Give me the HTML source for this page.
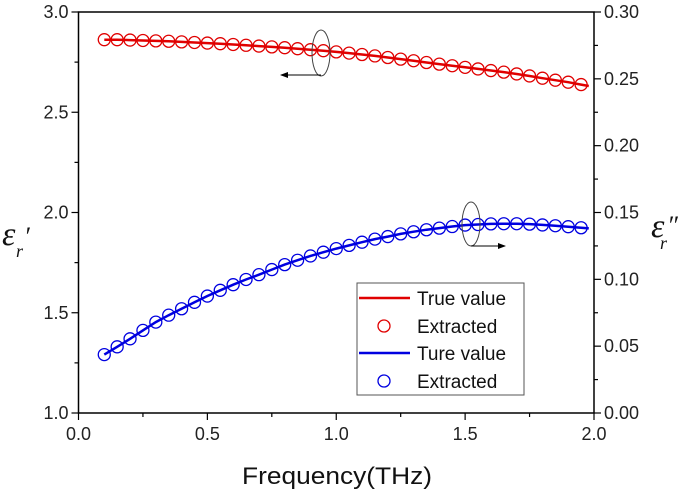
<!DOCTYPE html>
<html><head><meta charset="utf-8"><style>
body{margin:0;background:#fff}
svg{display:block;font-family:"Liberation Sans",sans-serif}
</style></head><body>
<svg id="chart" width="685" height="493"></svg>
<script>
const freqs=[0.10,0.15,0.20,0.25,0.30,0.35,0.40,0.45,0.50,0.55,0.60,0.65,0.70,0.75,0.80,0.85,0.90,0.95,1.00,1.05,1.10,1.15,1.20,1.25,1.30,1.35,1.40,1.45,1.50,1.55,1.60,1.65,1.70,1.75,1.80,1.85,1.90,1.95];
const realPart=[2.862,2.862,2.860,2.858,2.856,2.854,2.851,2.848,2.845,2.842,2.838,2.834,2.830,2.826,2.822,2.817,2.812,2.807,2.801,2.795,2.788,2.781,2.773,2.765,2.757,2.748,2.740,2.732,2.724,2.716,2.708,2.700,2.691,2.681,2.670,2.660,2.650,2.638];
const imagPart=[0.0437,0.0495,0.0555,0.0618,0.0680,0.0732,0.0780,0.0828,0.0875,0.0918,0.0960,0.0999,0.1035,0.1073,0.1110,0.1143,0.1175,0.1203,0.1230,0.1254,0.1278,0.1301,0.1320,0.1340,0.1356,0.1371,0.1383,0.1395,0.1406,0.1410,0.1415,0.1416,0.1416,0.1413,0.1407,0.1401,0.1394,0.1386];
const xTicks=["0.0","0.5","1.0","1.5","2.0"];
const yLeftTicks=["1.0","1.5","2.0","2.5","3.0"];
const yRightTicks=["0.00","0.05","0.10","0.15","0.20","0.25","0.30"];

const X0=78.5,X1=594,Y0=413,Y1=12;
const sx=v=>X0+(v/2)*(X1-X0);
const syL=v=>Y0-(v-1)/2*(Y0-Y1);
const syR=v=>Y0-(v/0.3)*(Y0-Y1);
const svg=document.getElementById('chart');
const NS='http://www.w3.org/2000/svg';
function mk(tag,attrs,parent){const e=document.createElementNS(NS,tag);for(const k in attrs)e.setAttribute(k,attrs[k]);(parent||svg).appendChild(e);return e;}

let f=mk('rect',{x:X0,y:Y1,width:X1-X0,height:Y0-Y1,fill:'none',stroke:'#000','stroke-width':1.5});



for(let i=0;i<=8;i++){const v=i*0.25,x=sx(v),len=i%2?4:7;
 mk('line',{x1:x,y1:Y0,x2:x,y2:Y0+len,stroke:'#000','stroke-width':1.2});}
xTicks.forEach(t=>{const e=mk('text',{x:sx(+t),y:Y0+27,'text-anchor':'middle','font-size':18,fill:'#222'});e.textContent=t;
 
 });
for(let i=0;i<=8;i++){const v=1+i*0.25,y=syL(v),len=i%2?4:7;
 mk('line',{x1:X0,y1:y,x2:X0-len,y2:y,stroke:'#000','stroke-width':1.2});}
yLeftTicks.forEach(t=>{const e=mk('text',{x:X0-10,y:syL(+t)+6,'text-anchor':'end','font-size':18,fill:'#222'});e.textContent=t;
 
 });
for(let i=0;i<=12;i++){const v=i*0.025,y=syR(v),len=i%2?4:7;
 mk('line',{x1:X1,y1:y,x2:X1+len,y2:y,stroke:'#000','stroke-width':1.2});}
yRightTicks.forEach(t=>{const e=mk('text',{x:X1+10,y:syR(+t)+6,'text-anchor':'start','font-size':18,fill:'#222'});e.textContent=t;
 
 });

function line(vals,sy,color,name){
 let d=vals.map((v,i)=>(i?'L':'M')+sx(freqs[i]).toFixed(1)+','+sy(v).toFixed(1)).join('');
 const n=vals.length;const slope=vals[n-1]-vals[n-2];
 d+='L'+sx(1.98).toFixed(1)+','+sy(vals[n-1]+slope*0.6).toFixed(1);
 const p=mk('path',{d:d,fill:'none',stroke:color,'stroke-width':2.5});
 
 
}
line(realPart,syL,'#e00000','real-true-line');
line(imagPart,syR,'#0000e0','imag-true-line');
realPart.forEach((v,i)=>{const c=mk('circle',{cx:sx(freqs[i]),cy:syL(v),r:6,fill:'none',stroke:'#e00000','stroke-width':1.3});
 
 });
imagPart.forEach((v,i)=>{const c=mk('circle',{cx:sx(freqs[i]),cy:syR(v),r:6,fill:'none',stroke:'#0000e0','stroke-width':1.3});
 
 });
</script>
<div style="position:absolute;left:0;top:0;width:685px;height:493px;pointer-events:none">
<svg width="685" height="493" style="position:absolute;left:0;top:0">
 <defs><marker id="ah" markerWidth="8" markerHeight="6" refX="7" refY="3" orient="auto"><path d="M0,0L8,3L0,6z" fill="#000"/></marker></defs>
 <g>
  <ellipse cx="321" cy="53" rx="9" ry="23" fill="none" stroke="#444" stroke-width="1"/>
  <line x1="321" y1="75" x2="281" y2="75" stroke="#000" stroke-width="1" marker-end="url(#ah)"/>
 </g>
 <g>
  <ellipse cx="471" cy="224" rx="9" ry="22" fill="none" stroke="#444" stroke-width="1"/>
  <line x1="471" y1="246" x2="505" y2="246" stroke="#000" stroke-width="1" marker-end="url(#ah)"/>
 </g>
 <g>
  <rect x="357" y="283" width="167" height="112" fill="#fff" stroke="#555" stroke-width="1"/>
  <line x1="359" y1="298" x2="410" y2="298" stroke="#e00000" stroke-width="2.5"/>
  <text x="417" y="305" font-size="19" fill="#111">True value</text>
  <circle cx="384" cy="326" r="6" fill="none" stroke="#e00000" stroke-width="1.3"/>
  <text x="417" y="333" font-size="19" fill="#111">Extracted</text>
  <line x1="359" y1="353" x2="410" y2="353" stroke="#0000e0" stroke-width="2.5"/>
  <text x="417" y="360" font-size="19" fill="#111">Ture value</text>
  <circle cx="384" cy="381" r="6" fill="none" stroke="#0000e0" stroke-width="1.3"/>
  <text x="417" y="388" font-size="19" fill="#111">Extracted</text>
 </g>
 <text x="242" y="484" textLength="190" lengthAdjust="spacingAndGlyphs" font-size="24" fill="#111" font-family="Liberation Sans, sans-serif">Frequency(THz)</text>
 <g font-family="Liberation Serif, serif" font-style="italic" fill="#111">
  <text x="2" y="245" font-size="34">ε</text><text x="24" y="245" font-size="26">′</text><text x="16" y="257" font-size="18">r</text>
 </g>
 <g font-family="Liberation Serif, serif" font-style="italic" fill="#111">
  <text x="651" y="237" font-size="34">ε</text><text x="667" y="234" font-size="26">″</text><text x="660" y="249" font-size="18">r</text>
 </g>
</svg></div>
</body></html>
